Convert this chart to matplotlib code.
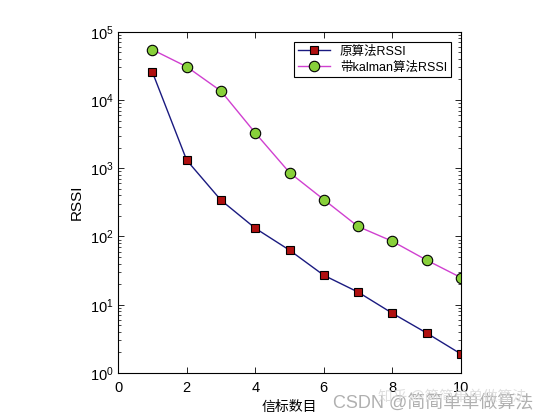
import numpy as np
import matplotlib.pyplot as plt
from matplotlib.ticker import LogLocator, NullFormatter

# 数据
beacons = [1, 2, 3, 4, 5, 6, 7, 8, 9, 10]
rssi_raw = [25500, 1310, 340, 132, 63, 27, 15.3, 7.5, 3.85, 1.9]
rssi_kalman = [54500, 30700, 13500, 3290, 863, 347, 140, 85, 45, 25]

plt.rcParams['font.family'] = ['Liberation Sans', 'Noto Sans CJK SC', 'DejaVu Sans']
plt.rcParams['font.size'] = 10

fig = plt.figure(figsize=(5.6, 4.2), dpi=100)
ax = fig.add_axes([0.211, 0.112, 0.612, 0.8125])

ax.semilogy(beacons, rssi_raw, color='#1a1a80', linewidth=1.0,
            marker='s', markersize=6, markerfacecolor='#b01010',
            markeredgecolor='black', markeredgewidth=0.8, label='原算法RSSI')
ax.semilogy(beacons, rssi_kalman, color='#d040d0', linewidth=1.0,
            marker='o', markersize=7.5, markerfacecolor='#88d03a',
            markeredgecolor='black', markeredgewidth=0.8, label='带kalman算法RSSI')

ax.set_xlim(0, 10)
ax.set_ylim(1, 1e5)
ax.set_xticks([0, 2, 4, 6, 8, 10])
ax.yaxis.set_major_locator(LogLocator(base=10, numticks=10))
ax.yaxis.set_minor_locator(LogLocator(base=10, subs=np.arange(2, 10), numticks=20))
ax.yaxis.set_minor_formatter(NullFormatter())
ax.tick_params(which='both', direction='in', top=True, right=True, labelsize=10.5)
ax.tick_params(axis='x', pad=6)
ax.tick_params(which='major', length=4, width=0.6)
ax.tick_params(which='minor', length=2, width=0.5)
for sp in ax.spines.values():
    sp.set_linewidth(0.8)

ax.set_xlabel('信标数目', family=['Noto Sans CJK SC'], fontsize=10, labelpad=3)
ax.set_ylabel('RSSI', fontsize=11)

leg = ax.legend(loc='upper right', fontsize=9, fancybox=False, framealpha=1,
                edgecolor='black', borderaxespad=0.8, handlelength=2.6,
                borderpad=0.3, labelspacing=0.3,
                prop={'family': ['Liberation Sans', 'Noto Sans CJK SC'], 'size': 9})
leg.get_frame().set_linewidth(0.8)

# 水印
fig.text(0.595, 0.03, 'CSDN @简简单单做算法', fontsize=13, color='#b0b0b0',
         family=['Liberation Sans', 'Noto Sans CJK SC'])
fig.text(0.675, 0.045, '知乎 @简简单单做算法', fontsize=10.5, color='#d8d8d8',
         family=['Noto Sans CJK SC'], alpha=0.8)

plt.savefig('out.png', dpi=100)
